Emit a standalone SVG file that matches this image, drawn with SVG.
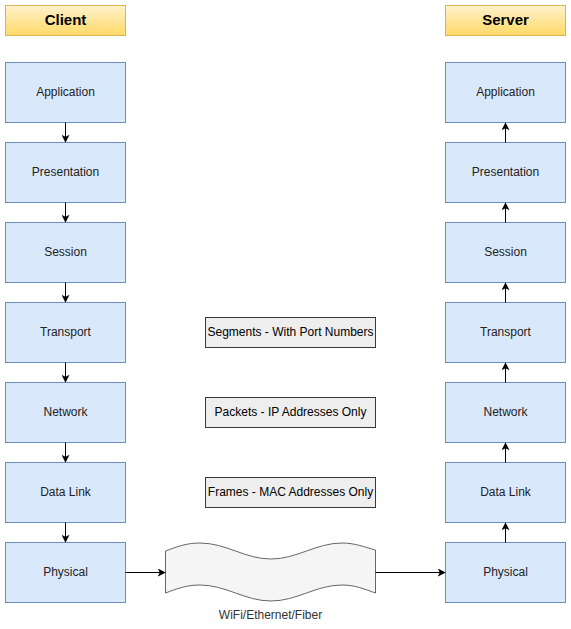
<svg xmlns="http://www.w3.org/2000/svg" width="571" height="629" viewBox="0 0 571 629">
<defs>
<linearGradient id="hdr" x1="0" y1="0" x2="0" y2="1">
<stop offset="0" stop-color="#fff2cc"/>
<stop offset="1" stop-color="#ffd966"/>
</linearGradient>
<marker id="arr" viewBox="0 0 10 10" refX="9" refY="5" markerWidth="8" markerHeight="8" markerUnits="userSpaceOnUse" orient="auto">
<path d="M0,0 L10,5 L0,10 L2.5,5 Z" fill="#000"/>
</marker>
</defs>
<style>
.hdr rect{fill:url(#hdr);stroke:#d6b656;stroke-width:1}
.hdr text{font-family:"Liberation Sans",Arial,sans-serif;font-size:15px;font-weight:bold;fill:#000;text-anchor:middle;dominant-baseline:central}
.layer rect{fill:#dae8fc;stroke:#6c8ebf;stroke-width:1}
.layer text{font-family:"Liberation Sans",Arial,sans-serif;font-size:12px;fill:#222;text-anchor:middle;dominant-baseline:central}
.pdu rect{fill:#eeeeee;stroke:#36393d;stroke-width:1}
.pdu text{font-family:"Liberation Sans",Arial,sans-serif;font-size:12px;fill:#000;text-anchor:middle;dominant-baseline:central}
.medium path{fill:#f5f5f5;stroke:#666666;stroke-width:1}
.medium text{font-family:"Liberation Sans",Arial,sans-serif;font-size:12px;fill:#333;text-anchor:middle;dominant-baseline:central}
.edges path{fill:none;stroke:#000;stroke-width:1;marker-end:url(#arr)}
</style>

<g id="client-header" class="hdr"><rect x="5.5" y="5.5" width="120" height="30"/><text x="65.5" y="19.5">Client</text></g>
<g id="server-header" class="hdr"><rect x="445.5" y="5.5" width="120" height="30"/><text x="505.5" y="19.5">Server</text></g>

<g id="c-app" class="layer"><rect x="5.5" y="62.5" width="120" height="60"/><text x="65.5" y="91.5">Application</text></g>
<g id="c-pres" class="layer"><rect x="5.5" y="142.5" width="120" height="60"/><text x="65.5" y="171.5">Presentation</text></g>
<g id="c-sess" class="layer"><rect x="5.5" y="222.5" width="120" height="60"/><text x="65.5" y="251.5">Session</text></g>
<g id="c-trans" class="layer"><rect x="5.5" y="302.5" width="120" height="60"/><text x="65.5" y="331.5">Transport</text></g>
<g id="c-net" class="layer"><rect x="5.5" y="382.5" width="120" height="60"/><text x="65.5" y="411.5">Network</text></g>
<g id="c-dl" class="layer"><rect x="5.5" y="462.5" width="120" height="60"/><text x="65.5" y="491.5">Data Link</text></g>
<g id="c-phys" class="layer"><rect x="5.5" y="542.5" width="120" height="60"/><text x="65.5" y="571.5">Physical</text></g>

<g id="s-app" class="layer"><rect x="445.5" y="62.5" width="120" height="60"/><text x="505.5" y="91.5">Application</text></g>
<g id="s-pres" class="layer"><rect x="445.5" y="142.5" width="120" height="60"/><text x="505.5" y="171.5">Presentation</text></g>
<g id="s-sess" class="layer"><rect x="445.5" y="222.5" width="120" height="60"/><text x="505.5" y="251.5">Session</text></g>
<g id="s-trans" class="layer"><rect x="445.5" y="302.5" width="120" height="60"/><text x="505.5" y="331.5">Transport</text></g>
<g id="s-net" class="layer"><rect x="445.5" y="382.5" width="120" height="60"/><text x="505.5" y="411.5">Network</text></g>
<g id="s-dl" class="layer"><rect x="445.5" y="462.5" width="120" height="60"/><text x="505.5" y="491.5">Data Link</text></g>
<g id="s-phys" class="layer"><rect x="445.5" y="542.5" width="120" height="60"/><text x="505.5" y="571.5">Physical</text></g>

<g id="segments" class="pdu"><rect x="205.5" y="317.5" width="170" height="30"/><text x="290.5" y="331.5">Segments - With Port Numbers</text></g>
<g id="packets" class="pdu"><rect x="205.5" y="397.5" width="170" height="30"/><text x="290.5" y="411.5">Packets - IP Addresses Only</text></g>
<g id="frames" class="pdu"><rect x="205.5" y="477.5" width="170" height="30"/><text x="290.5" y="491.5">Frames - MAC Addresses Only</text></g>

<g id="medium" class="medium">
<path d="M165.5,551 C177,546.8 186,543 200,543 C226,543 245,559 271,559 C297,559 316,543 342,543 C355,543 364,547 375.5,550 L375.5,593 C364,589 355,585 342,585 C316,585 297,601 271,601 C245,601 226,585 200,585 C186,585 177,588.8 165.5,593 Z"/>
<text x="270.5" y="614.5">WiFi/Ethernet/Fiber</text>
</g>

<g id="connectors" class="edges">
<path d="M65.5,122.5 L65.5,142"/>
<path d="M65.5,202.5 L65.5,222"/>
<path d="M65.5,282.5 L65.5,302"/>
<path d="M65.5,362.5 L65.5,382"/>
<path d="M65.5,442.5 L65.5,462"/>
<path d="M65.5,522.5 L65.5,542"/>
<path d="M505.5,542.5 L505.5,523"/>
<path d="M505.5,462.5 L505.5,443"/>
<path d="M505.5,382.5 L505.5,363"/>
<path d="M505.5,302.5 L505.5,283"/>
<path d="M505.5,222.5 L505.5,203"/>
<path d="M505.5,142.5 L505.5,123"/>
<path d="M125.5,572.5 L165,572.5"/>
<path d="M375.5,572.5 L445,572.5"/>
</g>
</svg>
